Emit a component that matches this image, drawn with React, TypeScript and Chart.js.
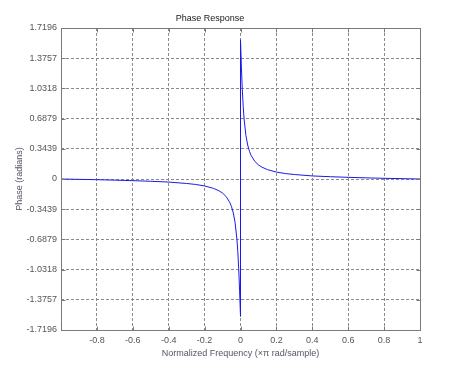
import React, { useEffect, useRef } from "react";
import { Chart, registerables } from "chart.js";

Chart.register(...registerables);

const TITLE = "Phase Response";
const X_LABEL = "Normalized Frequency (\u00d7\u03c0 rad/sample)";
const Y_LABEL = "Phase (radians)";

const X_MIN = -1;
const X_MAX = 1;
const X_TICKS = [-0.8, -0.6, -0.4, -0.2, 0, 0.2, 0.4, 0.6, 0.8, 1];
const X_TICK_LABELS = ["-0.8", "-0.6", "-0.4", "-0.2", "0", "0.2", "0.4", "0.6", "0.8", "1"];

const Y_TICKS = [-1.7196, -1.3757, -1.0318, -0.6879, -0.3439, 0, 0.3439, 0.6879, 1.0318, 1.3757, 1.7196];
const Y_TICK_LABELS = ["-1.7196", "-1.3757", "-1.0318", "-0.6879", "-0.3439", "0", "0.3439", "0.6879", "1.0318", "1.3757", "1.7196"];

// Normalized frequency (x pi rad/sample)
const FREQ = [
  -1, -0.9, -0.8, -0.7, -0.6, -0.5, -0.4, -0.3, -0.25, -0.2, -0.15, -0.12, -0.1, -0.08, -0.06, -0.05,
  -0.04, -0.03, -0.02, -0.015, -0.01, -0.005, 0,
  0, 0.005, 0.01, 0.015, 0.02, 0.03, 0.04, 0.05, 0.06, 0.08, 0.1, 0.12, 0.15, 0.2, 0.25, 0.3,
  0.4, 0.5, 0.6, 0.7, 0.8, 0.9, 1,
];

// Phase (radians)
const PHASE = [
  0, -0.004, -0.008, -0.013, -0.019, -0.026, -0.035, -0.051, -0.062, -0.079, -0.107, -0.134, -0.16, -0.2, -0.265, -0.315,
  -0.387, -0.498, -0.685, -0.828, -1.021, -1.274, -1.565,
  1.585, 1.274, 1.021, 0.828, 0.685, 0.498, 0.387, 0.315, 0.265, 0.2, 0.16, 0.134, 0.107, 0.079, 0.062, 0.051,
  0.035, 0.026, 0.019, 0.013, 0.008, 0.004, 0,
];

const FONT = "'Liberation Sans', Arial, Helvetica, sans-serif";

const boxPlugin = {
  id: "matlabBox",
  afterDatasetsDraw(chart: any) {
    const { ctx, chartArea: a, scales } = chart;
    const L = Math.round(a.left) + 0.5;
    const R = Math.round(a.right) + 0.5;
    const T = Math.round(a.top) + 0.5;
    const B = Math.round(a.bottom) + 0.5;
    ctx.save();
    ctx.strokeStyle = "#7a7a7a";
    ctx.lineWidth = 1;
    ctx.setLineDash([]);
    ctx.strokeRect(L, T, R - L, B - T);
    const len = 4;
    ctx.beginPath();
    X_TICKS.forEach((v) => {
      const px = Math.round(scales.x.getPixelForValue(v)) + 0.5;
      ctx.moveTo(px, B);
      ctx.lineTo(px, B - len);
      ctx.moveTo(px, T);
      ctx.lineTo(px, T + len);
    });
    Y_TICKS.forEach((v) => {
      const py = Math.round(scales.y.getPixelForValue(v)) + 0.5;
      ctx.moveTo(L, py);
      ctx.lineTo(L + len, py);
      ctx.moveTo(R, py);
      ctx.lineTo(R - len, py);
    });
    ctx.stroke();
    ctx.restore();
  },
};

export default function App() {
  const canvasRef = useRef<HTMLCanvasElement | null>(null);

  useEffect(() => {
    document.body.style.margin = "0";
    const canvas = canvasRef.current;
    if (!canvas) return;
    const points = FREQ.map((f, i) => ({ x: f, y: PHASE[i] }));
    const gridColor = (ctx: any) => {
      const v = ctx.tick ? ctx.tick.value : null;
      if (v === null) return "transparent";
      if (Math.abs(Math.abs(v) - 1) < 1e-6 || Math.abs(Math.abs(v) - 1.7196) < 1e-6) return "transparent";
      return "#8a8a8a";
    };
    const chart = new Chart(canvas, {
      type: "line",
      data: {
        datasets: [
          {
            data: points,
            borderColor: "#1a1ae6",
            borderWidth: 1,
            pointRadius: 0,
            fill: false,
            tension: 0,
          },
        ],
      },
      options: {
        responsive: false,
        animation: false,
        events: [],
        layout: { padding: { left: 0, right: 54, top: 0, bottom: 0 } },
        plugins: {
          legend: { display: false },
          tooltip: { enabled: false },
          title: {
            display: true,
            text: TITLE,
            color: "#1a1a1a",
            font: { family: FONT, size: 9, weight: "normal", lineHeight: 1.2 },
            padding: { top: 13, bottom: 4.2 },
          },
        },
        scales: {
          x: {
            type: "linear",
            min: X_MIN,
            max: X_MAX,
            afterBuildTicks: (scale: any) => {
              scale.ticks = X_TICKS.map((v) => ({ value: v }));
            },
            afterFit: (scale: any) => {
              scale.height = 42;
            },
            ticks: {
              autoSkip: false,
              maxRotation: 0,
              padding: 5,
              color: "#555555",
              font: { family: FONT, size: 9 },
              callback: (value: any) => {
                const i = X_TICKS.findIndex((t) => Math.abs(t - Number(value)) < 1e-6);
                return i >= 0 ? X_TICK_LABELS[i] : "";
              },
            },
            grid: { color: gridColor, lineWidth: 1, drawTicks: false },
            border: { display: false, dash: [3, 2] },
            title: {
              display: true,
              text: X_LABEL,
              color: "#555566",
              font: { family: FONT, size: 9 },
              padding: { top: 0, bottom: 13.5 },
            },
          },
          y: {
            type: "linear",
            min: -1.7196,
            max: 1.7196,
            afterBuildTicks: (scale: any) => {
              scale.ticks = Y_TICKS.map((v) => ({ value: v }));
            },
            afterFit: (scale: any) => {
              scale.width = 61;
            },
            ticks: {
              autoSkip: false,
              padding: 4,
              color: "#555555",
              font: { family: FONT, size: 9 },
              callback: (value: any) => {
                const i = Y_TICKS.findIndex((t) => Math.abs(t - Number(value)) < 1e-6);
                return i >= 0 ? Y_TICK_LABELS[i] : "";
              },
            },
            grid: { color: gridColor, lineWidth: 1, drawTicks: false },
            border: { display: false, dash: [3, 2] },
            title: {
              display: true,
              text: Y_LABEL,
              color: "#555566",
              font: { family: FONT, size: 9 },
              padding: { top: 14, bottom: 0 },
            },
          },
        },
      },
      plugins: [boxPlugin],
    } as any);
    return () => chart.destroy();
  }, []);

  return (
    <div style={{ position: "absolute", left: 0, top: 0, width: 474, height: 372, background: "#ffffff" }}>
      <canvas ref={canvasRef} width={474} height={372} style={{ display: "block", width: 474, height: 372 }} />
    </div>
  );
}
